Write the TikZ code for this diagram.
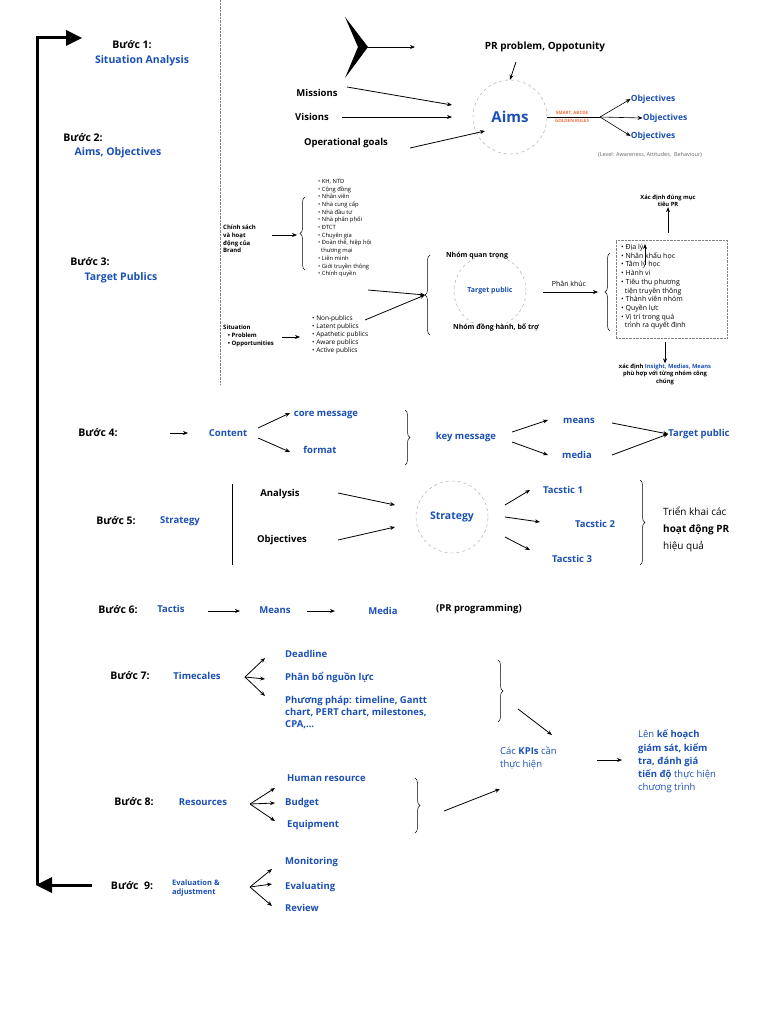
\documentclass[tikz,border=0pt]{standalone}
\usepackage{fontspec}
\setmainfont{Open Sans}
\usetikzlibrary{arrows.meta,decorations.pathreplacing}
\definecolor{bl}{HTML}{1A4FB5}
\definecolor{org}{HTML}{F26B3A}
\begin{document}
\begin{tikzpicture}[x=1pt,y=-1pt,
 st/.style={font=\fontsize{10.5}{12}\selectfont\bfseries,inner sep=0},
 bt/.style={font=\fontsize{10.5}{12}\selectfont\bfseries,text=bl,inner sep=0},
 bs/.style={font=\fontsize{9.5}{11.5}\selectfont\bfseries,text=bl,inner sep=0},
 ks/.style={font=\fontsize{9.5}{11.5}\selectfont\bfseries,inner sep=0},
 tiny/.style={font=\fontsize{6}{7.7}\selectfont,inner sep=0,align=left},
 tinyb/.style={font=\fontsize{6}{7.7}\selectfont\bfseries,inner sep=0,align=left},
 ar/.style={-{Stealth[length=5pt,width=4pt]},line width=0.8pt},
 circ/.style={draw=gray!70,dashed,circle},
 br/.style={decorate,decoration={brace,amplitude=5pt},line width=0.5pt}]
\useasboundingbox (0,0) rectangle (768,1024);
% main loop
\draw[line width=3pt] (37,885) -- (37,38) -- (70,38);
\fill (66,30) -- (82,38) -- (66,46) -- cycle;
\draw[line width=3pt] (92,885) -- (48,885);
\fill (52,877) -- (36,885) -- (52,893) -- cycle;
\draw[gray,densely dotted] (220,0) -- (220,385);
% steps
\node[st] (b1) at (132,45) {Bước 1:};
\node[bt] (s1) at (142,61) {Situation Analysis};
\node[st] (b2) at (83,138) {Bước 2:};
\node[bt] (s2) at (118,153) {Aims, Objectives};
\node[st] (b3) at (90,262) {Bước 3:};
\node[bt] (s3) at (121,278) {Target Publics};
% step 1-2
\fill (345,17) -- (368,47) -- (345,78) -- (358,47) -- cycle;
\coordinate (w) at (364,47);
\node[ks,font=\fontsize{10}{12}\selectfont\bfseries] (pr) at (545,47) {PR problem, Oppotunity};
\draw[ar] (w) -- (415,47);
\node[circ,minimum size=74pt] (aims) at (510,117) {};
\node[text=bl,font=\fontsize{15}{17}\selectfont\bfseries] at (aims) {Aims};
\draw[ar] (516,62) -- (aims.north);
\node[ks] (mi) at (317,93) {Missions};
\node[ks] (vi) at (312,117) {Visions};
\node[ks] (op) at (346,143) {Operational goals};
\draw[ar] (347,87) -- (452,105);
\draw[ar] (342,117) -- (452,117);
\draw[ar] (410,148) -- (485,131);
\node[text=org,font=\fontsize{4.5}{5}\selectfont\bfseries] (sm) at (572,113) {SMART, ABCDE};
\node[text=org,font=\fontsize{4.5}{5}\selectfont\bfseries] (gr) at (572,121) {GOLDEN RULES};
\coordinate (fan) at (600,117);
\draw[line width=0.6pt] (aims.east) -- (fan);
\node[bs,font=\fontsize{8.5}{10}\selectfont\bfseries] (o1) at (653,99) {Objectives};
\node[bs,font=\fontsize{8.5}{10}\selectfont\bfseries] (o2) at (665,118) {Objectives};
\node[bs,font=\fontsize{8.5}{10}\selectfont\bfseries] (o3) at (653,136) {Objectives};
\draw[ar,line width=0.6pt] (fan) -- (o1.west);
\draw[ar,line width=0.6pt] (fan) -- (o2.west);
\draw[ar,line width=0.6pt] (fan) -- (o3.west);
\node[font=\fontsize{5.5}{6}\selectfont,text=gray!80!black] (lv) at (650,155) {(Level: Awareness, Attitudes,\ \ Behaviour)};
% step 3
\node[tinyb,anchor=west] (cs) at (223,239) {Chính sách\\và hoạt\\động của\\Brand};
\draw[ar,line width=0.7pt] (272,235) -- (297,235);
\draw[br] (305,270) -- (305,197);
\node[tiny,anchor=north west,font=\fontsize{5.8}{7.7}\selectfont] (l1) at (318,179) {• KH, NTD\\• Cộng đồng\\• Nhân viên\\• Nhà cung cấp\\• Nhà đầu tư\\• Nhà phân phối\\• ĐTCT\\• Chuyên gia\\• Đoàn thể, hiệp hội\\\ \ thương mại\\• Liên minh\\• Giới truyền thông\\• Chính quyền};
\node[tinyb,anchor=north west] (sit) at (223,325) {Situation\\\ \ \ • Problem\\\ \ \ • Opportunities};
\draw[ar,line width=0.6pt] (282,337) -- (300,337);
\node[tiny,anchor=north west,font=\fontsize{6.5}{8.2}\selectfont] (l2) at (312,315) {• Non-publics\\• Latent publics\\• Apathetic publics\\• Aware publics\\• Active publics};
\draw[br] (430,335) -- (430,255);
\coordinate (bt) at (425,295);
\draw[ar] (368,290) -- (bt);
\draw[ar] (365,320) -- (bt);
\node[tinyb,font=\fontsize{7}{8}\selectfont\bfseries] (nq) at (477,256) {Nhóm quan trọng};
\node[circ,minimum size=72pt] (tp) at (490,291) {};
\node[bs,font=\fontsize{7}{8}\selectfont\bfseries] at (tp) {Target public};
\node[tinyb,font=\fontsize{7}{8}\selectfont\bfseries] (nd) at (496,327) {Nhóm đồng hành, bổ trợ};
\node[font=\fontsize{7}{8}\selectfont] (pk) at (569,284) {Phân khúc};
\draw[ar,line width=0.6pt] (543,292) -- (598,292);
\draw[br] (610,331) -- (610,253);
\node[draw=gray,densely dotted,minimum width=111pt,minimum height=98pt] (box) at (671.5,289) {};
\node[tiny,anchor=north west,font=\fontsize{7}{8.7}\selectfont] (l3) at (621,244) {• Địa lý\\• Nhân khẩu học\\• Tâm lý học\\• Hành vi\\• Tiêu thụ phương\\\ \ tiện truyền thông\\• Thành viên nhóm\\• Quyền lực\\• Vị trí trong quá\\\ \ trình ra quyết định};
\draw[ar,line width=0.6pt] (645,265) -- (645,244);
\node[tinyb,align=center,font=\fontsize{5.8}{7.5}\selectfont\bfseries] (xd) at (668,201) {Xác định đúng mục\\tiêu PR};
\draw[ar,line width=0.6pt] (668,233) -- (xd.south);
\node[tinyb,align=center,font=\fontsize{5.8}{7.5}\selectfont\bfseries] (xi) at (665,374) {xác định \textcolor{bl}{Insight, Medias, Means}\\phù hợp với từng nhóm công\\chúng};
\draw[ar,line width=0.6pt] (665,342) -- (xi.north);
% step 4
\node[st] (b4) at (98,433) {Bước 4:};
\draw[ar,line width=0.6pt] (170,433) -- (188,433);
\node[bs] (ct) at (228,433) {Content};
\node[bs] (cm) at (326,415) {core message};
\node[bs] (fm) at (320,450) {format};
\draw[ar] (258,428) -- (290,413);
\draw[ar] (258,438) -- (290,452);
\draw[br] (405,410) -- (405,465);
\node[bs] (km) at (466,437) {key message};
\node[bs] (me) at (579,421) {means};
\node[bs] (md) at (577,455) {media};
\draw[ar] (512,432) -- (548,420);
\draw[ar] (512,442) -- (548,455);
\node[bs] (tpu) at (699,434) {Target public};
\draw[ar] (612,423) -- (tpu.west);
\draw[ar] (612,455) -- (tpu.west);
% step 5
\node[st] (b5) at (116,521) {Bước 5:};
\node[bs] (sg) at (180,521) {Strategy};
\draw[line width=0.5pt] (232,484) -- (232,565);
\node[ks] (an) at (280,494) {Analysis};
\node[ks] (ob) at (282,540) {Objectives};
\node[circ,minimum size=72pt] (sc) at (452,517) {};
\node[bt] at (sc) {Strategy};
\draw[ar] (338,493) -- (395,505);
\draw[ar] (338,540) -- (395,527);
\node[bs] (t1) at (563,490) {Tacstic 1};
\node[bs] (t2) at (595,524) {Tacstic 2};
\node[bs] (t3) at (572,559) {Tacstic 3};
\draw[ar] (505,505) -- (530,490);
\draw[ar] (505,517) -- (540,522);
\draw[ar] (505,537) -- (530,550);
\draw[br] (640,480) -- (640,565);
\node[anchor=west,align=left,font=\fontsize{10}{17}\selectfont,inner sep=0] (tk) at (663,529) {Triển khai các\\\textbf{hoạt động PR}\\hiệu quả};
% step 6
\node[st] (b6) at (118,610) {Bước 6:};
\node[bs] (ta) at (171,609) {Tactis};
\node[bs] (mn) at (275,610) {Means};
\node[bs] (mda) at (383,611) {Media};
\node[ks] (prp) at (479,609) {(PR programming)};
\draw[ar] (208,611) -- (240,611);
\draw[ar] (307,611) -- (335,611);
% step 7
\node[st] (b7) at (130,676) {Bước 7:};
\node[bs] (tc) at (197,676) {Timecales};
\coordinate (f7) at (245,677);
\node[bs,anchor=west] (dl) at (285,654) {Deadline};
\node[bs,anchor=west] (pb) at (285,677) {Phân bổ nguồn lực};
\node[bs,anchor=north west,align=left,font=\fontsize{9.5}{12}\selectfont\bfseries] (pp) at (285,696) {Phương pháp: timeline, Gantt\\chart, PERT chart, milestones,\\CPA,...};
\draw[ar] (f7) -- (265,658);
\draw[ar] (f7) -- (265,679);
\draw[ar] (f7) -- (265,696);
\draw[br] (498,660) -- (498,722);
\node[anchor=west,align=left,text=bl,font=\fontsize{9.5}{13}\selectfont,inner sep=0] (kpi) at (500,758) {Các \textbf{KPIs} cần\\thực hiện};
\draw[ar] (518,709) -- (552,735);
\draw[ar] (597,760) -- (622,760);
\node[anchor=north west,align=left,text=bl,font=\fontsize{9.5}{13.2}\selectfont,inner sep=0] (len) at (638,730) {Lên \textbf{kế hoạch}\\\textbf{giám sát, kiểm}\\\textbf{tra, đánh giá}\\\textbf{tiến độ} thực hiện\\chương trình};
% step 8
\node[st] (b8) at (134,802) {Bước 8:};
\node[bs] (rs) at (203,802) {Resources};
\coordinate (f8) at (250,804);
\node[bs,anchor=west] (hr) at (287,778) {Human resource};
\node[bs,anchor=west] (bu) at (285,803) {Budget};
\node[bs,anchor=west] (eq) at (287,825) {Equipment};
\draw[ar] (f8) -- (275,788);
\draw[ar] (f8) -- (275,803);
\draw[ar] (f8) -- (275,821);
\draw[br] (415,778) -- (415,833);
\draw[ar] (444,811) -- (500,789);
% step 9
\node[st] (b9) at (132,886) {Bước\ \ 9:};
\node[bs,align=left,anchor=west,font=\fontsize{7.5}{9}\selectfont\bfseries] (ev) at (172,888) {Evaluation \&\\adjustment};
\coordinate (f9) at (250,887);
\node[bs,anchor=west] (mo) at (285,862) {Monitoring};
\node[bs,anchor=west] (eg) at (285,887) {Evaluating};
\node[bs,anchor=west] (rv) at (285,908) {Review};
\draw[ar] (f9) -- (272,869);
\draw[ar] (f9) -- (272,884);
\draw[ar] (f9) -- (272,906);
\end{tikzpicture}
\end{document}
